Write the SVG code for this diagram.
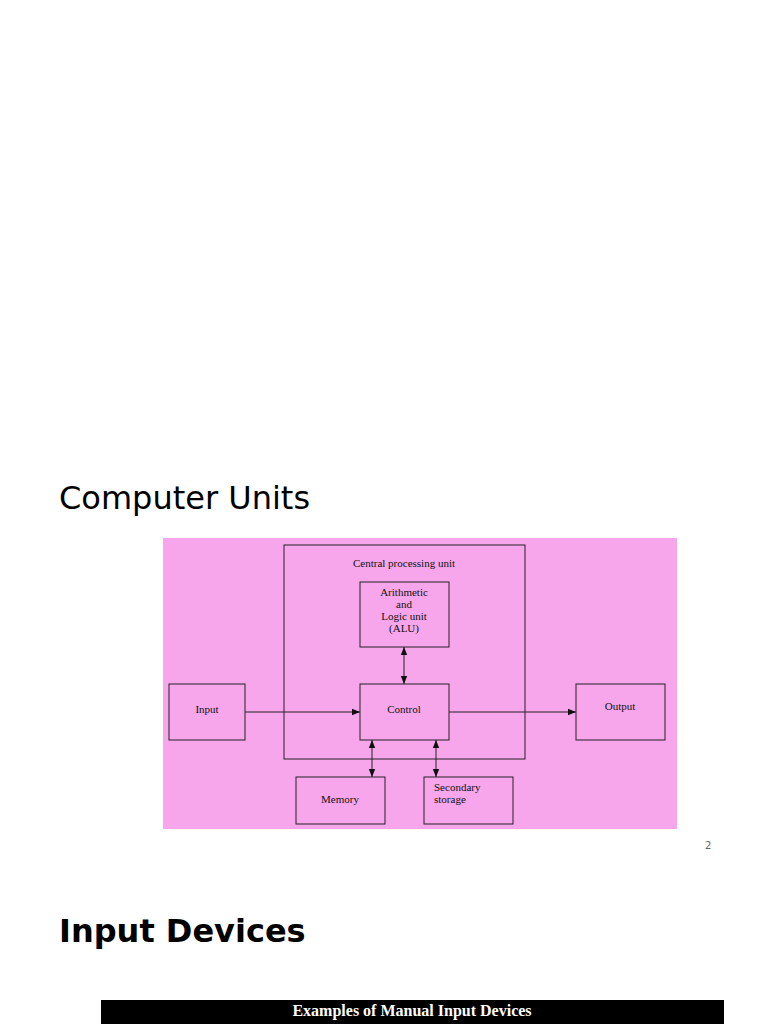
<svg xmlns="http://www.w3.org/2000/svg" width="768" height="1024" viewBox="0 0 768 1024">
<style>
.b{fill:none;stroke:#222;stroke-width:1}
.t{font-family:"Liberation Serif",serif;font-size:11px;fill:#111}
.c{text-anchor:middle}
.l{stroke:#222;stroke-width:1}
</style>
<defs>
<marker id="a" viewBox="0 0 10 10" refX="10" refY="5" markerWidth="8" markerHeight="8" orient="auto-start-reverse"><path d="M0,1L10,5L0,9z" fill="#111"/></marker>
</defs>
<rect width="768" height="1024" fill="#fff"/>
<text x="59" y="509" font-family="DejaVu Sans,sans-serif" font-size="32">Computer Units</text>
<rect x="163" y="538" width="514" height="291" fill="#f7a6ec"/>
<g id="cpu"><rect class="b" x="284" y="545" width="241" height="214"/><text class="t c" x="404" y="567">Central processing unit</text></g>
<g id="alu"><rect class="b" x="360" y="582" width="89" height="65"/><text class="t c" x="404" y="596">Arithmetic</text><text class="t c" x="404" y="608">and</text><text class="t c" x="404" y="620">Logic unit</text><text class="t c" x="404" y="632">(ALU)</text></g>
<g id="input"><rect class="b" x="169" y="684" width="76" height="56"/><text class="t c" x="207" y="713">Input</text></g>
<g id="control"><rect class="b" x="360" y="684" width="89" height="56"/><text class="t c" x="404" y="713">Control</text></g>
<g id="output"><rect class="b" x="576" y="684" width="89" height="56"/><text class="t c" x="620" y="710">Output</text></g>
<g id="memory"><rect class="b" x="296" y="777" width="89" height="47"/><text class="t c" x="340" y="803">Memory</text></g>
<g id="secondary"><rect class="b" x="424" y="777" width="89" height="47"/><text class="t" x="434" y="791">Secondary</text><text class="t" x="434" y="803">storage</text></g>
<g id="connectors">
<line class="l" x1="404" y1="647" x2="404" y2="684" marker-start="url(#a)" marker-end="url(#a)"/>
<line class="l" x1="245" y1="712" x2="360" y2="712" marker-end="url(#a)"/>
<line class="l" x1="449" y1="712" x2="576" y2="712" marker-end="url(#a)"/>
<line class="l" x1="372" y1="740" x2="372" y2="777" marker-start="url(#a)" marker-end="url(#a)"/>
<line class="l" x1="436" y1="740" x2="436" y2="777" marker-start="url(#a)" marker-end="url(#a)"/>
</g>
<text x="705" y="849" font-family="DejaVu Sans,sans-serif" font-size="10" fill="#666">2</text>
<text x="59" y="942" font-family="DejaVu Sans,sans-serif" font-size="32" font-weight="bold">Input Devices</text>
<rect x="101" y="1000" width="623" height="24" fill="#000"/>
<text x="412" y="1016" font-family="Liberation Serif,serif" font-size="16" font-weight="bold" fill="#fff" text-anchor="middle">Examples of Manual Input Devices</text>
</svg>
